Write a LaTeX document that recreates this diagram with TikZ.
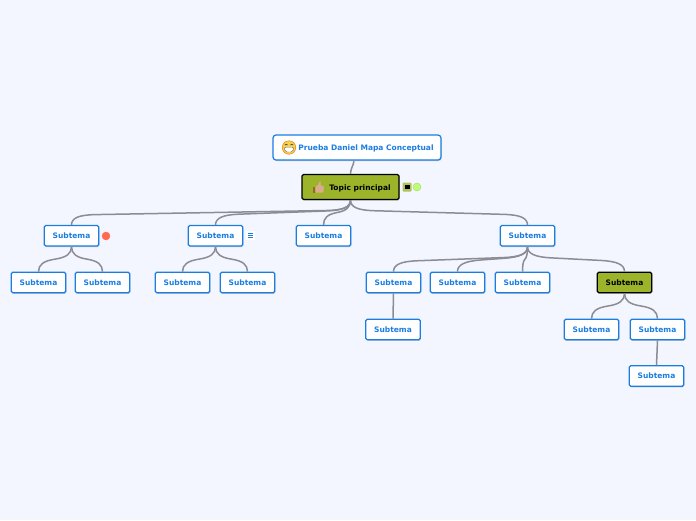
\documentclass[tikz,border=0pt]{standalone}
\usepackage{fontspec}
\setmainfont{DejaVu Sans}
\usetikzlibrary{calc,shadows}
\definecolor{paper}{HTML}{F3F6FF}
\definecolor{topicblue}{HTML}{1A7DE2}
\definecolor{topicgreen}{HTML}{9CB42A}
\definecolor{linkgray}{HTML}{8C8C94}
\definecolor{thumbtan}{HTML}{D8AE88}
\definecolor{grinyellow}{HTML}{F6D24C}
\tikzset{
	subtema/.style={draw=topicblue,line width=1.2pt,fill=white,rounded corners=1.5pt,minimum width=54.5pt,minimum height=20.5pt,inner sep=0pt,text=topicblue,font=\bfseries\fontsize{7.5}{9}\selectfont,drop shadow={shadow xshift=.6pt,shadow yshift=-1pt,opacity=.4}},
	greentopic/.style={subtema,draw=black,fill=topicgreen,text=black},
	link/.style={draw=linkgray,line width=1.5pt},
	branch/.style={to path={let \p1=(\tikztostart),\p2=(\tikztotarget),
		\n1={min(24pt,.5*veclen(\x2-\x1,.2*(\y2-\y1)))},
		\n2={\y1+.4*(\y2-\y1)},\n3={\y2-.4*(\y2-\y1)} in
		.. controls ($(\p1)!.7!(\x1,\n2)$) and ($($(\x1,\n2)!\n1!(\x2,\n3)$)!.7!(\x1,\n2)$) .. ($(\x1,\n2)!\n1!(\x2,\n3)$)
		-- ($(\x2,\n3)!\n1!(\x1,\n2)$)
		.. controls ($($(\x2,\n3)!\n1!(\x1,\n2)$)!.7!(\x2,\n3)$) and ($(\p2)!.7!(\x2,\n3)$) .. (\tikztotarget)}}
}
\begin{document}
\begin{tikzpicture}[x=1pt,y=-1pt]
	\useasboundingbox[fill=paper] (0,0) rectangle (696,520);
	% boxes
	\node[subtema,minimum width=168pt,minimum height=25pt,rounded corners=3pt] (title) at (357,147.5) {};
	\node[greentopic,minimum width=97pt,minimum height=25pt,line width=1.3pt] (main) at (350.5,187) {};
	\node[subtema] (subA) at (71.5,235.8) {Subtema};
	\node[subtema] (subB) at (215.5,235.8) {Subtema};
	\node[subtema] (subC) at (323.5,235.8) {Subtema};
	\node[subtema] (subD) at (527.5,235.8) {Subtema};
	\node[subtema] (subAa) at (38.5,282.5) {Subtema};
	\node[subtema] (subAb) at (102.5,282.5) {Subtema};
	\node[subtema] (subBa) at (182.5,282.5) {Subtema};
	\node[subtema] (subBb) at (247.5,282.5) {Subtema};
	\node[subtema] (subDa) at (393.5,282.5) {Subtema};
	\node[subtema] (subDb) at (457.5,282.5) {Subtema};
	\node[subtema] (subDc) at (522.5,282.5) {Subtema};
	\node[greentopic] (subDd) at (624.5,282.5) {Subtema};
	\node[subtema] (subDaa) at (393,329.5) {Subtema};
	\node[subtema] (subDda) at (591.5,329.5) {Subtema};
	\node[subtema] (subDdb) at (657.5,329.5) {Subtema};
	\node[subtema] (subDdba) at (656.5,376) {Subtema};
	% links
	\coordinate (titlefoot) at ($(title.south)+(-3,.6)$);
	\draw[link] (titlefoot) to[out=-100,in=90] (main.north);
	\draw[link,branch] (main.south) to (subA.north);
	\draw[link,branch] (main.south) to (subB.north);
	\draw[link,branch] (main.south) to (subC.north);
	\draw[link,branch] (main.south) to (subD.north);
	\draw[link,branch] (subA.south) to (subAa.north);
	\draw[link,branch] (subA.south) to (subAb.north);
	\draw[link,branch] (subB.south) to (subBa.north);
	\draw[link,branch] (subB.south) to (subBb.north);
	\draw[link,branch] (subD.south) to (subDa.north);
	\draw[link,branch] (subD.south) to (subDb.north);
	\draw[link,branch] (subD.south) to (subDc.north);
	\draw[link,branch] (subD.south) to (subDd.north);
	\draw[link] (subDa.south) -- (subDaa.north);
	\draw[link,branch] (subDd.south) to (subDda.north);
	\draw[link,branch] (subDd.south) to (subDdb.north);
	\draw[link] (subDdb.south) -- (subDdba.north);
	% texts and icons
	\node[inner sep=0pt,text=topicblue,font=\bfseries\fontsize{7.5}{9}\selectfont] (titletext) at (366,148) {Prueba Daniel Mapa Conceptual};
	\node[inner sep=0pt,text=black,font=\bfseries\fontsize{7.5}{9}\selectfont] (maintext) at (360,188) {Topic principal};
	\node[circle,draw=orange!70!brown,line width=.5pt,fill=grinyellow,inner sep=0pt,minimum size=13.5pt] (grin) at (289,147.5) {};
	\fill[white,draw=black!60,line width=.4pt,rounded corners=2pt] (284,147.2) -- (294,147.2) -- (293,152) -- (285,152) -- cycle;
	\draw[black!70,line width=.8pt] (284.8,145) to[bend left=50] (287.6,145);
	\draw[black!70,line width=.8pt] (290.4,145) to[bend left=50] (293.2,145);
	\fill[thumbtan,draw=brown!70,line width=.3pt,rounded corners=1pt] (315.5,186.3) -- (318,185.5) -- (319.5,181.5) -- (321,182) -- (320.5,185.8) -- (324,186) -- (323.5,192.5) -- (315.5,192.5) -- cycle;
	\fill[brown!80!black] (312.5,186.5) rectangle (314.7,192.5);
	\node[fill=topicgreen!80,rounded corners=1pt,minimum size=9pt,inner sep=0pt] (noteicon) at (407,187) {};
	\node[fill=black,minimum width=5pt,minimum height=4pt,inner sep=0pt] (notemark) at (407,186.5) {};
	\node[circle,draw=topicgreen!70,fill=green!50!yellow!55,minimum size=8pt,inner sep=0pt] (doneicon) at (417,187) {};
	\node[circle,draw=red!60,fill=red!65!orange!70,minimum size=8pt,inner sep=0pt] (redicon) at (106,236) {};
	\node[fill=white,minimum size=9pt,inner sep=0pt] (listicon) at (250,235.5) {};
	\draw[topicblue,line width=.7pt] (247.5,233) -- (252.5,233);
	\draw[topicblue,line width=.7pt] (247.5,235.3) -- (252.5,235.3);
	\draw[topicblue,line width=.7pt] (247.5,237.6) -- (252.5,237.6);
\end{tikzpicture}
\end{document}
